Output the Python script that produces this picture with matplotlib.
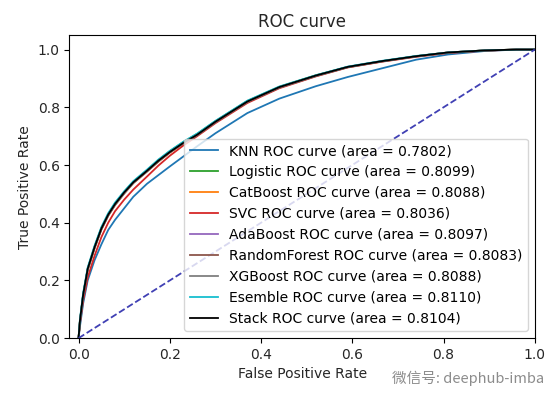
import matplotlib
matplotlib.use("Agg")
import matplotlib.pyplot as plt

# shared false positive rate grid
fpr = [0, 0.003, 0.01, 0.02, 0.035, 0.05, 0.065, 0.08, 0.1, 0.12, 0.15, 0.175,
       0.2, 0.23, 0.26, 0.3, 0.37, 0.44, 0.52, 0.59, 0.665, 0.74, 0.81, 0.89,
       0.96, 1.0]

models = ["KNN", "Logistic", "CatBoost", "SVC", "AdaBoost", "RandomForest",
          "XGBoost", "Esemble", "Stack"]
aucs = [0.7802, 0.8099, 0.8088, 0.8036, 0.8097, 0.8083, 0.8088, 0.8110, 0.8104]
colors = ["C0", "C2", "C1", "C3", "C4", "C5", "C7", "C9", "k"]

tpr_knn = [0, 0.04, 0.12, 0.20, 0.27, 0.325, 0.375, 0.41, 0.45, 0.49, 0.535,
           0.565, 0.595, 0.63, 0.665, 0.71, 0.78, 0.83, 0.873, 0.905, 0.935,
           0.965, 0.983, 0.995, 1.0, 1.0]
tpr_logistic = [0, 0.06, 0.15, 0.24, 0.317, 0.382, 0.43, 0.467, 0.507, 0.542,
                0.582, 0.617, 0.648, 0.68, 0.708, 0.752, 0.822, 0.871, 0.911,
                0.94, 0.96, 0.977, 0.99, 0.997, 1.0, 1.0]
tpr_catboost = [0, 0.058, 0.148, 0.237, 0.312, 0.377, 0.425, 0.462, 0.502,
                0.538, 0.578, 0.612, 0.643, 0.675, 0.703, 0.749, 0.819, 0.869,
                0.909, 0.939, 0.959, 0.977, 0.99, 0.997, 1.0, 1.0]
tpr_svc = [0, 0.05, 0.13, 0.21, 0.285, 0.35, 0.40, 0.44, 0.48, 0.515, 0.56,
           0.598, 0.632, 0.668, 0.70, 0.745, 0.815, 0.866, 0.907, 0.938,
           0.958, 0.975, 0.988, 0.996, 1.0, 1.0]
tpr_adaboost = [0, 0.059, 0.151, 0.241, 0.316, 0.381, 0.429, 0.466, 0.506,
                0.541, 0.581, 0.616, 0.646, 0.678, 0.706, 0.751, 0.821, 0.87,
                0.91, 0.94, 0.96, 0.977, 0.99, 0.997, 1.0, 1.0]
tpr_randomforest = [0, 0.057, 0.147, 0.236, 0.311, 0.376, 0.424, 0.461, 0.501,
                    0.537, 0.577, 0.612, 0.643, 0.675, 0.703, 0.748, 0.818,
                    0.868, 0.908, 0.939, 0.959, 0.976, 0.989, 0.997, 1.0, 1.0]
tpr_xgboost = [0, 0.058, 0.148, 0.238, 0.313, 0.378, 0.426, 0.463, 0.503,
               0.539, 0.579, 0.613, 0.644, 0.676, 0.704, 0.749, 0.819, 0.869,
               0.909, 0.939, 0.959, 0.977, 0.99, 0.997, 1.0, 1.0]
tpr_esemble = [0, 0.065, 0.156, 0.245, 0.32, 0.385, 0.433, 0.47, 0.509,
               0.544, 0.584, 0.619, 0.649, 0.681, 0.709, 0.753, 0.823, 0.872,
               0.911, 0.941, 0.961, 0.978, 0.99, 0.997, 1.0, 1.0]
tpr_stack = [0, 0.06, 0.15, 0.24, 0.315, 0.38, 0.428, 0.465, 0.505, 0.54,
             0.58, 0.615, 0.645, 0.677, 0.705, 0.75, 0.82, 0.87, 0.91, 0.94,
             0.96, 0.977, 0.99, 0.997, 1.0, 1.0]

tprs = [tpr_knn, tpr_logistic, tpr_catboost, tpr_svc, tpr_adaboost,
        tpr_randomforest, tpr_xgboost, tpr_esemble, tpr_stack]

fig = plt.figure(figsize=(5.6, 4.04), dpi=100)
ax = fig.add_axes([0.124, 0.163, 0.831, 0.750])

for name, auc, tpr, c in zip(models, aucs, tprs, colors):
    ax.plot(fpr, tpr, color=c, lw=1.3,
            label=f"{name} ROC curve (area = {auc:.4f})")

ax.plot([0, 1], [0, 1], color="#4040b4", lw=1.3, linestyle="--")

ax.set_xlim(-0.02, 1.0)
ax.set_ylim(0.0, 1.05)
ax.set_xlabel("False Positive Rate", fontsize=10, color="#262626")
ax.set_ylabel("True Positive Rate", fontsize=10, color="#262626")
ax.set_title("ROC curve", fontsize=12, color="#262626")
ax.tick_params(labelsize=10, labelcolor="#262626")
ax.legend(loc="lower right", fontsize=10)

# watermark
fig.text(0.700, 0.063, "微信号: deephub-imba", fontsize=10.5, color="#8c8c8c",
         family=["Noto Sans CJK SC", "DejaVu Sans"], va="center", ha="left")

fig.savefig("out.png", dpi=100)
